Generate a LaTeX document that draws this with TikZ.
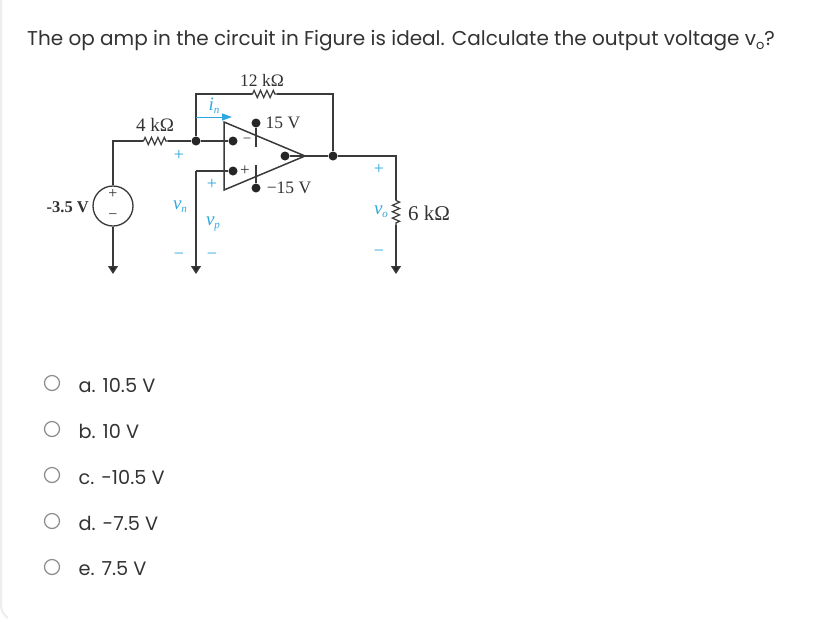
\documentclass[tikz,border=0pt]{standalone}
\usepackage{fontspec}
\setmainfont{Poppins}
\newfontfamily\cirfont{Liberation Serif}
\usetikzlibrary{arrows.meta,decorations.pathmorphing}
\definecolor{cblue}{HTML}{2FA8E0}
\definecolor{wire}{HTML}{3A3A3A}
\definecolor{txt}{HTML}{333333}
\definecolor{radio}{HTML}{8A8A8A}
\definecolor{edgegray}{HTML}{EDEDED}
\tikzset{
  w/.style={draw=wire,line width=1.3pt},
  res/.style={draw=wire,line width=1.2pt,decorate,decoration={zigzag,segment length=6.4pt,amplitude=3.6pt,pre length=0.5pt,post length=0.5pt}},
  dot/.style={circle,fill=black!85,inner sep=0pt,minimum size=9pt},
  gnd/.style={draw=wire,line width=1.3pt,-{Triangle[length=8pt,width=10pt,fill=black!85]}},
  ctext/.style={font=\cirfont\fontsize{17.5}{20}\selectfont,text=black!80,inner sep=0pt},
  bl/.style={font=\cirfont\fontsize{19}{20}\selectfont,text=cblue,inner sep=0pt},
  sign/.style={font=\cirfont\fontsize{18}{20}\selectfont,text=cblue,inner sep=0pt},
  choice/.style={font=\fontsize{19.3}{22}\selectfont,text=txt,anchor=west,inner sep=0pt},
  rad/.style={circle,draw=radio,line width=1.2pt,fill=white,minimum size=15pt,inner sep=0pt},
}
\begin{document}
\begin{tikzpicture}[x=1pt,y=-1pt]
\useasboundingbox (0,0) rectangle (821,619);
\fill[white] (0,0) rectangle (821,619);
\draw[edgegray,line width=2pt,rounded corners=6pt] (1,0) -- (1,612) -- (8,618);
\node[anchor=west,inner sep=0pt,text=txt,font=\fontsize{20}{24}\selectfont] (title) at (27,41) {The op amp in the circuit in Figure is ideal. Calculate the output voltage v\raisebox{-0.3ex}{\fontsize{13}{14}\selectfont o}?};

% coordinates and nodes
\node[circle,draw=wire,line width=1.3pt,minimum size=40pt,inner sep=0pt] (src) at (113,206) {};
\coordinate (tl) at (113,141);
\coordinate (r4a) at (143,141);
\coordinate (r4b) at (168,141);
\node[dot] (nj) at (196,141) {};
\coordinate (fbl) at (196,94);
\coordinate (r12a) at (252,94);
\coordinate (r12b) at (277,94);
\coordinate (fbr) at (333,94);
\node[dot] (out) at (333,156) {};
\coordinate (t1) at (224,122);
\coordinate (t2) at (224,190);
\coordinate (tip) at (305,156);
\node[dot] (minus) at (233,141) {};
\node[dot] (plus) at (233,171) {};
\node[dot] (vpos) at (256,123) {};
\node[dot] (vneg) at (256,188) {};
\node[dot] (oin) at (285,156) {};
\coordinate (vposb) at (256,147);
\coordinate (vnegb) at (256,165);
\coordinate (pl) at (196,171);
\coordinate (g1) at (113,274);
\coordinate (g2) at (196,274);
\coordinate (g3) at (396,274);
\coordinate (loadt) at (396,156);
\coordinate (r6a) at (396,200);
\coordinate (r6b) at (396,225);
\coordinate (ia) at (196,117);
\coordinate (ib) at (232,117);

% wires
\draw[w] (src.north) -- (tl) -- (r4a);
\draw[res] (r4a) -- (r4b);
\draw[w] (r4b) -- (nj);
\draw[w] (nj) -- (minus);
\draw[w] (nj) -- (fbl) -- (r12a);
\draw[res] (r12a) -- (r12b);
\draw[w] (r12b) -- (fbr) -- (out);
\draw[w] (plus) -- (pl);
\draw[gnd] (pl) -- (g2);
\draw[gnd] (src.south) -- (g1);
\draw[w,line width=1.5pt] (t1) -- (t2) -- (tip) -- cycle;
\draw[w] (vpos) -- (vposb);
\draw[w] (vneg) -- (vnegb);
\draw[w] (oin) -- (tip);
\draw[w] (tip) -- (out);
\draw[w] (out) -- (loadt) -- (r6a);
\draw[res] (r6a) -- (r6b);
\draw[gnd] (r6b) -- (g3);
\draw[draw=cblue,line width=1pt,-{Triangle[length=10pt,width=7pt]}] (ia) -- (ib);

% labels
\node[ctext] (l12) at (262,80) {12 kΩ};
\node[ctext,font=\cirfont\fontsize{19}{20}\selectfont] (l4) at (155,125) {4 kΩ};
\node[ctext] (l15) at (283,123) {15 V};
\node[ctext] (lm15) at (289,188) {−15 V};
\node[ctext,font=\cirfont\bfseries\fontsize{16.5}{18}\selectfont,anchor=east] (l35) at (89,207) {-3.5 V};
\node[ctext,font=\cirfont\fontsize{21}{22}\selectfont] (l6) at (429,213) {6 kΩ};
\node[ctext,font=\cirfont\fontsize{16}{18}\selectfont] (sp) at (113,194) {+};
\node[ctext,font=\cirfont\fontsize{16}{18}\selectfont] (sm) at (113,217) {−};
\node[ctext,font=\cirfont\fontsize{15}{18}\selectfont] (om) at (247,141) {−};
\node[ctext,font=\cirfont\fontsize{17}{18}\selectfont] (op) at (245,171) {+};
\node[bl] (lin) at (214,106) {\itshape i\raisebox{-0.35ex}{\fontsize{11}{12}\selectfont n}};
\node[bl] (lvn) at (180,207) {\itshape v\raisebox{-0.35ex}{\fontsize{11}{12}\selectfont n}};
\node[bl] (lvp) at (213,224) {\itshape v\raisebox{-0.35ex}{\fontsize{11}{12}\selectfont p}};
\node[bl] (lvo) at (381,212) {\itshape v\raisebox{-0.35ex}{\fontsize{11}{12}\selectfont o}};
\node[sign] (a1) at (179,155) {+};
\node[sign] (a2) at (212,184) {+};
\node[sign] (a3) at (379,169) {+};
\node[sign] (b1) at (179,256) {−};
\node[sign] (b2) at (212,256) {−};
\node[sign] (b3) at (379,253) {−};

% choices
\foreach \n/\y/\t in {a/383/a. 10.5 V,b/429/b. 10 V,c/475/c. -10.5 V,d/521/d. -7.5 V,e/567/e. 7.5 V}{
  \node[rad] (r\n) at (52,\y) {};
  \node[choice] (c\n) at (78.5,\y+2) {\t};
}
\end{tikzpicture}
\end{document}
